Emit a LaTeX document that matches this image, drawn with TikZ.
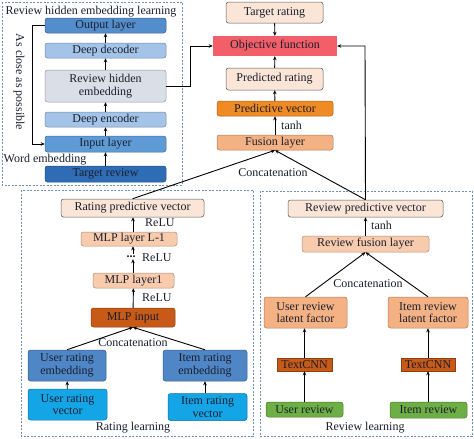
\documentclass[tikz,border=0pt]{standalone}
\usepackage{fontspec}
\setmainfont{Liberation Serif}
\usetikzlibrary{arrows.meta}
\definecolor{bMid}{HTML}{548DCC}
\definecolor{bLight}{HTML}{A3C4E8}
\definecolor{bPale}{HTML}{D9DEE7}
\definecolor{bIn}{HTML}{5E9BD6}
\definecolor{bDark}{HTML}{2E6DB5}
\definecolor{bEmb}{HTML}{4F86C6}
\definecolor{bCyan}{HTML}{14A5E6}
\definecolor{peach}{HTML}{FBE5D6}
\definecolor{lorange}{HTML}{F8CBAD}
\definecolor{morange}{HTML}{F4B183}
\definecolor{orangeD}{HTML}{F08A24}
\definecolor{rust}{HTML}{C85A17}
\definecolor{objred}{HTML}{F35F69}
\definecolor{grn}{HTML}{6DAE45}
\definecolor{dashc}{HTML}{6E8FB4}
\definecolor{txt}{HTML}{1A1F2E}
\tikzset{
  box/.style={draw=#1!70!black, rounded corners=2.5pt, inner sep=0pt, text=txt, align=center, font=\fontsize{12}{12.5}\selectfont, line width=0.5pt},
  lbl/.style={text=txt, inner sep=0pt, font=\fontsize{12}{13}\selectfont},
  arr/.style={-{Stealth[length=4pt,width=3.5pt]}, line width=0.9pt, black},
  ln/.style={line width=0.9pt, black},
  grp/.style={draw=dashc, dash pattern=on 2pt off 1.5pt, line width=0.8pt}
}
\begin{document}
\begin{tikzpicture}[x=1pt,y=-1pt]
\useasboundingbox (0,0) rectangle (474,439);
% group frames
\draw[grp] (2,2) rectangle (182,185);
\draw[grp] (21,190) rectangle (253,436);
\draw[grp] (260,191) rectangle (472,436);

% ---------- Review hidden embedding learning ----------
\node[lbl] (t1) at (91,12) {Review hidden embedding learning};
\node[box=bMid, fill=bMid, minimum width=121pt, minimum height=15pt] (out) at (105.5,25.5) {Output layer};
\node[box=bLight, fill=bLight, minimum width=121pt, minimum height=15pt] (dec) at (105.5,50.5) {Deep decoder};
\node[box=bPale, fill=bPale, minimum width=121pt, minimum height=32pt] (rhe) at (105.5,86) {Review hidden\\embedding};
\node[box=bLight, fill=bLight, minimum width=121pt, minimum height=15pt] (enc) at (105.5,119.5) {Deep encoder};
\node[box=bIn, fill=bIn, minimum width=121pt, minimum height=16pt] (inp) at (105.5,144) {Input layer};
\node[box=bDark, fill=bDark, minimum width=121pt, minimum height=16pt] (tr) at (105.5,174) {Target review};
\node[lbl] (we) at (45,160) {Word embedding};
\node[lbl, rotate=-90] (acp) at (19,82) {As close as possible};
\coordinate (lp1) at (32,25.5);
\coordinate (lp2) at (32,144);
\draw[arr] (out.west) -- (lp1) -- (lp2) -- (inp.west);
\draw[arr] (tr) -- (inp);
\draw[arr] (inp) -- (enc);
\draw[arr] (enc) -- (rhe);
\draw[arr] (rhe) -- (dec);
\draw[arr] (dec) -- (out);

% ---------- Center column ----------
\node[box=gray, fill=peach, minimum width=97pt, minimum height=21pt] (trg) at (274.5,12.5) {Target rating};
\node[fill=objred, minimum width=124pt, minimum height=20pt, inner sep=0pt, text=txt, font=\fontsize{12}{13}\selectfont] (obj) at (275,46) {Objective function};
\node[box=gray, fill=peach, minimum width=97pt, minimum height=22pt] (pr) at (274.5,79) {Predicted rating};
\node[box=orangeD, fill=orangeD, minimum width=116pt, minimum height=15pt] (pv) at (275,108.5) {Predictive vector};
\node[box=morange, fill=morange, minimum width=116pt, minimum height=15pt] (fl) at (275,142.5) {Fusion layer};
\node[lbl, anchor=west] (tanh1) at (281,125) {tanh};
\node[lbl] (cc1) at (273,173) {Concatenation};
\draw[arr] (trg) -- (obj);
\draw[arr] (pr) -- (obj);
\draw[arr] (pv) -- (pr);
\draw[arr] (fl) -- (pv);
\coordinate (rc1) at (190,86);
\coordinate (rc2) at (190,46);
\draw[arr] (rhe.east) -- (rc1) -- (rc2) -- (obj.west);

% ---------- Rating learning ----------
\node[box=gray, fill=peach, minimum width=143pt, minimum height=18pt] (rpv) at (132.5,208) {Rating predictive vector};
\node[box=lorange, fill=lorange, minimum width=96pt, minimum height=14pt] (mlpL) at (129,239) {MLP layer L-1};
\node[lbl] (dots) at (131,257) {\textbf{...}};
\node[box=lorange, fill=lorange, minimum width=81pt, minimum height=15pt] (mlp1) at (133.5,280.5) {MLP layer1};
\node[box=rust, fill=rust, minimum width=84pt, minimum height=19pt] (mlpin) at (133,317.5) {MLP input};
\node[lbl, anchor=west] (relu1) at (145,223) {ReLU};
\node[lbl, anchor=west] (relu2) at (142,258) {ReLU};
\node[lbl, anchor=west] (relu3) at (142,298) {ReLU};
\node[lbl] (cc2) at (133,343) {Concatenation};
\node[box=bEmb, fill=bEmb, minimum width=78pt, minimum height=31pt] (ure) at (67,365.5) {User rating\\embedding};
\node[box=bEmb, fill=bEmb, minimum width=84pt, minimum height=31pt] (ire) at (205,365.5) {Item rating\\embedding};
\node[box=bCyan, fill=bCyan, minimum width=79pt, minimum height=31pt] (urv) at (67.5,404.5) {User rating\\vector};
\node[box=bCyan, fill=bCyan, minimum width=79pt, minimum height=27pt] (irv) at (207.5,407) {Item rating\\vector};
\node[lbl] (rl) at (133,428) {Rating learning};
\coordinate (ax) at (133,0);
\draw[arr] (mlpL.north -| ax) -- (rpv.south -| ax);
\draw[arr] (mlp1.north -| ax) -- ([yshift=-1pt]dots.south -| ax);
\draw[arr] ([yshift=2pt]dots.north -| ax) -- (mlpL.south -| ax);
\draw[arr] (mlpin) -- (mlp1);
\draw[arr] (ure.north) -- (mlpin.south);
\draw[arr] (ire.north) -- (mlpin.south);
\draw[arr] (urv) -- (ure);
\draw[arr] (irv.north -| ire) -- (ire.south);
\draw[arr] (rpv.north) -- (fl.south);

% ---------- Review learning ----------
\node[box=gray, fill=peach, minimum width=155pt, minimum height=17pt] (rvpv) at (365.5,208.5) {Review predictive vector};
\node[lbl, anchor=west] (tanh2) at (371,225) {tanh};
\node[box=lorange, fill=lorange, minimum width=127pt, minimum height=16pt] (rfl) at (365.5,244) {Review fusion layer};
\node[lbl] (cc3) at (368,284) {Concatenation};
\node[box=morange, fill=morange, minimum width=83pt, minimum height=31pt] (urlf) at (305.5,312.5) {User review\\latent factor};
\node[box=morange, fill=morange, minimum width=80pt, minimum height=31pt] (irlf) at (428,312.5) {Item review\\latent factor};
\node[box=rust, fill=rust, rounded corners=0pt, minimum width=55pt, minimum height=13pt] (tc1) at (304.5,364.5) {TextCNN};
\node[box=rust, fill=rust, rounded corners=0pt, minimum width=54pt, minimum height=13pt] (tc2) at (428,364.5) {TextCNN};
\node[box=grn, fill=grn, minimum width=77pt, minimum height=15pt] (ur) at (304.5,409.5) {User review};
\node[box=grn, fill=grn, minimum width=77pt, minimum height=16pt] (ir) at (428.5,410) {Item review};
\node[lbl] (rvl) at (365,428) {Review learning};
\draw[arr] (ur.north -| tc1) -- (tc1.south);
\draw[arr] (tc1.north) -- (tc1.north |- urlf.south);
\draw[arr] (ir.north -| tc2) -- (tc2.south);
\draw[arr] (tc2.north) -- (tc2.north |- irlf.south);
\draw[arr] (urlf.north) -- (rfl.south);
\draw[arr] (irlf.north) -- (rfl.south);
\draw[arr] (rfl) -- (rvpv);
\coordinate (rv1) at (365,46);
\draw[arr] (rvpv.north) -- (rv1) -- (obj.east);
\draw[arr] (rvpv.north) -- (fl.south);
\end{tikzpicture}
\end{document}
